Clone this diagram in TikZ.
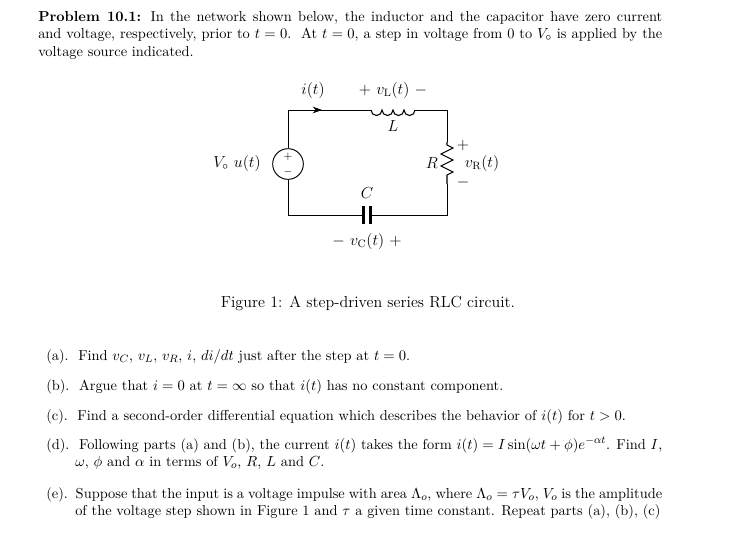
\documentclass[tikz,border=0pt]{standalone}
\usepackage{amsmath}
\usetikzlibrary{decorations.pathmorphing,arrows.meta}
\newcommand{\jl}[2]{\hbox to #1{#2}}
\begin{document}
\begin{tikzpicture}[x=0.75pt,y=-0.75pt,
  wire/.style={line width=0.6pt},
  txt/.style={inner sep=0pt,anchor=base west,font=\fontsize{10.8}{13}\selectfont},
  lbl/.style={inner sep=0pt,font=\fontsize{12}{14}\selectfont}]
\useasboundingbox (0,0) rectangle (749,540);
% paragraph
\node[txt] (p1) at (38,21) {\jl{468pt}{\textbf{Problem 10.1:} In the network shown below, the inductor and the capacitor have zero current}};
\node[txt] (p2) at (38,38) {\jl{468pt}{and voltage, respectively, prior to $t=0$.\ \ At $t=0$, a step in voltage from 0 to $V_\circ$ is applied by the}};
\node[txt] (p3) at (38,56) {voltage source indicated.};
% circuit
\coordinate (tl) at (288,110);
\coordinate (tr) at (447,110);
\coordinate (bl) at (288,215);
\coordinate (br) at (447,215);
\node[circle,draw,line width=0.7pt,minimum size=23pt,inner sep=0pt] (src) at (288,164) {};
\node[lbl,font=\fontsize{8}{9}\selectfont] (sp) at (288,157) {$+$};
\node[lbl,font=\fontsize{8}{9}\selectfont] (sm) at (288,172) {$-$};
\coordinate (l1) at (371,110);
\coordinate (l2) at (415,110);
\coordinate (r1) at (447,142);
\coordinate (r2) at (447,184);
\coordinate (c1) at (364,215);
\coordinate (c2) at (370,215);
\draw[wire] (src.north) -- (tl) -- (l1);
\draw[wire] (l2) -- (tr) -- (r1);
\draw[wire] (r2) -- (br) -- (c2);
\draw[wire] (c1) -- (bl) -- (src.south);
\draw[wire,line width=0.8pt] (l1) arc (180:0:5.5) arc (180:0:5.5) arc (180:0:5.5) arc (180:0:5.5);
\draw[wire,line width=0.8pt] (r1) -- ++(0,3) -- ++(6,3) -- ++(-12,6) -- ++(12,6) -- ++(-12,6) -- ++(12,6) -- ++(-6,3) -- (r2);
\draw[line width=1.8pt] (363.5,206) -- (363.5,224) (370.5,206) -- (370.5,224);
\draw[-{Stealth[length=7pt,width=5pt]},wire] (tl) -- (322,110);
% labels
\node[lbl] (it) at (313,90) {$i(t)$};
\node[lbl] (vl) at (393,90) {$+\ v_{\mathrm{L}}(t)\ -$};
\node[lbl] (L) at (393,126) {$L$};
\node[lbl] (vs) at (237,163) {$V_\circ\ u(t)$};
\node[lbl] (R) at (432,163) {$R$};
\node[lbl] (rp) at (463,145) {$+$};
\node[lbl] (vr) at (482,163) {$v_{\mathrm{R}}(t)$};
\node[lbl] (rm) at (463,182) {$-$};
\node[lbl] (C) at (367,193) {$C$};
\node[lbl] (vc) at (367,241) {$-\ v_{\mathrm{C}}(t)\ +$};
\node[lbl] (cap) at (368,303) {Figure 1: A step-driven series RLC circuit.};
% items
\node[txt] (a) at (46,360) {(a).\ \ Find $v_C$, $v_L$, $v_R$, $i$, $di/dt$ just after the step at $t=0$.};
\node[txt] (b) at (46,390) {(b).\ \ Argue that $i=0$ at $t=\infty$ so that $i(t)$ has no constant component.};
\node[txt] (c) at (46,420) {(c).\ \ Find a second-order differential equation which describes the behavior of $i(t)$ for $t>0$.};
\node[txt] (d1) at (46,449) {\hbox to 462pt{(d).\ \ Following parts (a) and (b), the current $i(t)$ takes the form $i(t)=I\sin(\omega t+\phi)e^{-\alpha t}$. Find $I$,}};
\node[txt] (d2) at (75,466) {$\omega$, $\phi$ and $\alpha$ in terms of $V_o$, $R$, $L$ and $C$.};
\node[txt] (e1) at (46,498) {\hbox to 462pt{(e).\ \ Suppose that the input is a voltage impulse with area $\Lambda_o$, where $\Lambda_o=\tau V_o$, $V_o$ is the amplitude}};
\node[txt] (e2) at (75,515) {of the voltage step shown in Figure 1 and $\tau$ a given time constant. Repeat parts (a), (b), (c)};
\end{tikzpicture}
\end{document}
